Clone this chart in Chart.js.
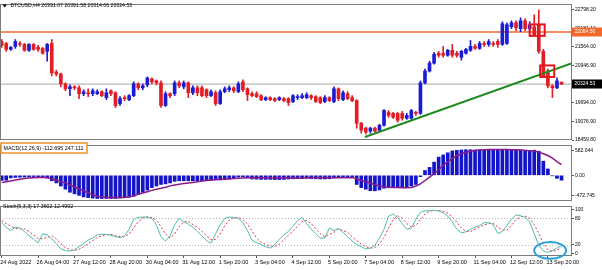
<!DOCTYPE html>
<html>
<head>
<meta charset="utf-8">
<script src="https://cdn.jsdelivr.net/npm/chart.js@4.4.1/dist/chart.umd.min.js"></script>
<style>
  html, body { margin: 0; padding: 0; background: #fff; }
  #wrap { position: relative; width: 602px; height: 270px; overflow: hidden; background: #fff; }
  canvas { position: absolute; left: 0; }
</style>
</head>
<body>
<div id="wrap">
  <canvas id="priceChart" width="602" height="145" style="top:0px"></canvas>
  <canvas id="macdChart" width="602" height="64" style="top:141px"></canvas>
  <canvas id="stochChart" width="602" height="68" style="top:202px"></canvas>
</div>
<script>
// BTCUSD H4 candles
const opens = [21746,21680,21483,21582,21680,21648,21450,21648,21549,21516,
  21418,21680,20727,20661,20333,20168,20234,20201,20004,20037,
  20004,20004,20070,19873,20103,20037,19675,19873,19807,19938,
  20333,20201,20300,20497,20431,20366,19610,20004,20004,20366,
  20234,20366,20037,20201,20201,20136,19938,20037,19675,20070,
  20136,20201,20070,20399,20168,20004,20004,19938,19807,19873,
  19840,19807,19840,19840,19741,19873,19873,19873,19938,19905,
  19873,19741,19873,19741,20168,19807,20004,19873,19774,19018,
  18854,18755,18854,18788,18952,19380,19347,19347,19347,19183,
  19183,19380,19347,20366,20760,21023,21352,21352,21286,21450,
  21352,21220,21352,21450,21582,21516,21680,21648,21680,21746,
  21648,21680,22239,22371,22174,22436,22174,22239,22305,21418,
  20760,20267,20201,20391.07];
const highs = [21812,21713,21582,21812,21746,21680,21680,21680,21615,21549,
  21680,21812,20793,20694,20366,20300,20267,20267,20136,20168,
  20168,20136,20103,20168,20136,20070,19905,19938,19971,20399,
  20366,20333,20563,20530,20464,20431,20070,20037,20431,20431,
  20431,20399,20267,20267,20267,20168,20136,20103,20136,20234,
  20267,20234,20399,20464,20201,20070,20070,19971,19905,19905,
  19873,19905,19873,19873,19971,19971,20004,20037,19971,19938,
  19905,19938,19905,20234,20201,20103,20070,19938,19807,19051,
  18887,18887,18887,18985,19478,19445,19380,19380,19413,19347,
  19478,19413,20431,20826,21089,21385,21418,21582,21483,21648,
  21418,21450,21516,21779,21648,21746,21746,21812,21746,21812,
  22404,22371,22436,22436,22535,22502,22404,22634,22798.2,21483,
  20826,20300,20530,20391.58];
const lows = [21549,21418,21450,21516,21582,21418,21418,21450,21418,21319,
  21089,20596,20596,20234,20103,19938,20136,19840,19938,19905,
  19938,19971,19905,19807,19938,19544,19610,19774,19774,19905,
  20136,20136,20234,20333,20300,19544,19577,19873,19938,20201,
  20168,19873,19971,19938,19905,19873,19905,19610,19643,20037,
  20070,20037,20037,20070,19774,19905,19873,19774,19774,19774,
  19741,19774,19741,19610,19708,19807,19840,19840,19807,19708,
  19675,19708,19741,19708,19774,19774,19807,19741,18854,18689,
  18657,18689,18722,18755,18919,19215,19183,19051,19117,19150,
  19150,19281,19314,20333,20727,20990,21220,21220,21253,21220,
  21220,21122,21319,21418,21483,21483,21582,21582,21582,21549,
  21615,21648,22174,22108,22075,22108,22108,21943,21352,20563,
  20201,19873,20168,20314.66];
const closes = [21615,21483,21549,21746,21648,21450,21648,21483,21483,21352,
  21648,20694,20661,20333,20168,20234,20201,20004,20070,20004,
  20103,20070,19938,20037,20004,19610,19840,19840,19938,20333,
  20201,20267,20530,20399,20366,19610,20004,19938,20366,20267,
  20366,20037,20201,20037,19938,19938,20070,19675,20070,20168,
  20201,20103,20333,20136,19971,19938,19905,19807,19873,19807,
  19774,19873,19774,19708,19938,19905,19938,19971,19873,19741,
  19708,19873,19774,20168,19840,20037,19840,19774,19018,18788,
  18722,18854,18755,18952,19445,19281,19215,19117,19183,19281,
  19445,19347,20366,20760,21023,21319,21286,21286,21450,21286,
  21286,21418,21483,21582,21516,21680,21648,21746,21648,21648,
  22338,22305,22371,22206,22436,22174,22305,21976,21418,20596,
  20267,20201,20431,20324.53];

// MACD(12,26,9): histogram (main) and signal
const macdHist = [-120,-115,-60,-50,-45,-40,-35,-30,-30,-40,
  -60,-127,-177,-249,-322,-394,-430,-466,-503,-517,
  -530,-539,-539,-539,-539,-539,-530,-517,-510,-488,
  -445,-394,-344,-286,-249,-213,-199,-177,-141,-127,
  -127,-127,-127,-127,-125,-120,-115,-110,-110,-100,
  -90,-60,-40,-35,-60,-85,-90,-95,-95,-95,
  -100,-100,-95,-85,-80,-75,-75,-70,-75,-80,
  -85,-85,-80,-60,-55,-50,-40,-40,-213,-286,
  -322,-358,-360,-340,-300,-290,-286,-286,-280,-270,
  -249,-213,-30,112,184,307,423,474,524,568,
  582,590,595,595,590,590,585,582,580,582,
  590,595,598,595,590,585,580,585,560,329,
  148,-10,-70,-112.695];
const macdSignal = [-170,-150,-130,-110,-90,-75,-62,-54,-50,-47,
  -55,-80,-110,-145,-177,-225,-270,-315,-358,-405,
  -450,-488,-505,-515,-518,-518,-518,-517,-500,-475,
  -440,-410,-380,-350,-322,-300,-275,-245,-225,-205,
  -190,-178,-165,-150,-135,-120,-108,-98,-90,-85,
  -82,-75,-68,-62,-58,-55,-54,-56,-58,-60,
  -62,-64,-64,-64,-62,-60,-60,-58,-58,-58,
  -58,-56,-56,-55,-55,-54,-54,-54,-80,-120,
  -150,-177,-215,-249,-265,-275,-282,-286,-288,-288,
  -285,-250,-200,-120,-40,40,130,230,320,390,
  460,500,535,560,578,590,597,600,600,600,
  600,598,597,595,588,580,570,565,540,500,
  460,400,320,247.111];

// Stochastic(5,3,3)
const stochMain = [70,60,52,60,58,50,40,32,24,45,
  42,33,22,10,6,5,8,15,22,30,
  35,42,44,43,41,38,36,40,55,78,
  82,83,83,80,65,38,28,40,65,80,
  72,67,60,50,40,29,23,45,65,80,
  83,82,80,70,52,30,24,20,15,12,
  20,32,42,50,62,75,82,68,55,45,
  35,35,58,52,57,48,38,28,20,15,
  10,12,18,35,55,85,90,82,68,55,
  58,78,94,97,98,98,97,93,85,72,
  55,47,49,55,60,64,70,70,66,45,
  50,64,78,88,86,82,72,45,18,5,
  2,6,12,17.3602];
const stochSignal = [75,68,62,57,56,56,50,42,34,33,
  36,40,33,22,13,8,6,9,15,22,
  29,36,40,43,43,41,38,38,44,58,
  72,81,83,82,76,61,44,35,44,62,
  72,73,66,59,50,40,31,32,44,63,
  76,82,82,77,67,51,35,25,20,16,
  16,21,31,41,51,62,73,75,68,56,
  45,38,43,48,56,52,48,38,29,21,
  15,12,13,22,36,58,77,86,80,68,
  60,64,77,90,96,98,98,96,92,83,
  71,58,50,50,55,60,65,68,69,60,
  54,53,64,77,84,85,80,66,45,23,
  8,4,7,12.4992];

const timeLabels = ['24 Aug 2022','26 Aug 04:00','27 Aug 12:00','28 Aug 20:00','30 Aug 04:00',
  '31 Aug 12:00','1 Sep 20:00','3 Sep 04:00','4 Sep 12:00','5 Sep 20:00','7 Sep 04:00',
  '8 Sep 12:00','9 Sep 20:00','11 Sep 04:00','12 Sep 12:00','13 Sep 20:00'];
const timeTickBars = [0,8,16,24,32,40,48,56,64,72,80,88,96,104,112,120];

const priceTicks = [22798.20,22181.10,21564.00,20946.90,20329.80,19694.00,19076.90,18459.80];
const macdTicks = [582.044, 0, -472.745];
const macdTickLabels = ['582.044','0.00','-472.745'];
const stochTicks = [100, 80, 20, 0];
const stochLevels = [80, 20];

const resistanceLevel = 22064.50;
const lastPrice = 20324.53;
const trendLine = [{x: 79.8, y: 18558}, {x: 125.3, y: 21023}];
// marked zones: [barFrom, barTo, priceTop, priceBottom]
const markedBoxes = [[116.0, 119.3, 22315, 21934], [118.3, 121.4, 20947, 20563]];
// circled stochastic zone: [barFrom, barTo, valueTop, valueBottom]
const stochCircle = [117.0, 124.0, 25.6, -12.6];

const bullColor = '#1c1cd4';
const bearColor = '#e11d25';
const barMin = -0.37, barMax = 125.3;
const FONT = '"Liberation Sans", Arial, sans-serif';

Chart.defaults.font.family = FONT;
Chart.defaults.font.size = 5;
Chart.defaults.color = '#000';
Chart.defaults.animation = false;

const bars = opens.map((_, i) => i);
const candleColors = bars.map(i => closes[i] >= opens[i] ? bullColor : bearColor);

function timeAxis(show) {
  return {
    type: 'linear', min: barMin, max: barMax, offset: false, display: show,
    afterBuildTicks(s) { s.ticks = timeTickBars.map(v => ({ value: v })); },
    afterFit(s) { s.height = show ? 14 : 0; },
    grid: { drawOnChartArea: false, drawTicks: true, tickLength: 2, color: '#555' },
    border: { display: false },
    ticks: { autoSkip: false, maxRotation: 0, align: 'start', labelOffset: -1.5, padding: 1,
      font: { size: 5.5 }, callback: (v, i) => timeLabels[i] }
  };
}

function rightAxis(min, max, ticks, labels) {
  return {
    position: 'right', min, max,
    afterFit(s) { s.width = 30; },
    afterBuildTicks(s) { s.ticks = ticks.map(v => ({ value: v })); },
    grid: { drawOnChartArea: false, drawTicks: true, tickLength: 2, color: '#555' },
    border: { display: false },
    ticks: { autoSkip: false, padding: 1, font: { size: 5 }, callback: (v, i) => labels[i] }
  };
}

const paneFrame = {
  id: 'paneFrame',
  afterDraw(chart) {
    const { ctx, chartArea: a } = chart;
    ctx.save();
    ctx.strokeStyle = '#7c7c7c';
    ctx.lineWidth = 1;
    ctx.strokeRect(a.left + 0.5, a.top + 0.5, a.right - a.left - 1, a.bottom - a.top - 1);
    ctx.restore();
  }
};

function axisTag(chart, value, text, bg, fg) {
  const { ctx, chartArea: a } = chart;
  const y = chart.scales.y.getPixelForValue(value);
  ctx.fillStyle = bg;
  ctx.fillRect(a.right, Math.round(y) - 4.5, 30, 9);
  ctx.fillStyle = fg;
  ctx.font = '5px ' + FONT;
  ctx.textBaseline = 'middle';
  ctx.textAlign = 'left';
  ctx.fillText(text, a.right + 2.5, Math.round(y));
}

const priceExtras = {
  id: 'priceExtras',
  afterDraw(chart) {
    const { ctx, scales: { x, y } } = chart;
    ctx.save();
    ctx.strokeStyle = '#e8141c';
    ctx.lineWidth = 2;
    markedBoxes.forEach(b => {
      const x0 = x.getPixelForValue(b[0]), x1 = x.getPixelForValue(b[1]);
      const y0 = y.getPixelForValue(b[2]), y1 = y.getPixelForValue(b[3]);
      ctx.strokeRect(x0, y0, x1 - x0, y1 - y0);
    });
    axisTag(chart, resistanceLevel, resistanceLevel.toFixed(2), '#f2692e', '#fff');
    axisTag(chart, lastPrice, lastPrice.toFixed(2), '#000', '#fff');
    // symbol header
    ctx.fillStyle = '#000';
    ctx.beginPath();
    ctx.moveTo(2.5, 4.5); ctx.lineTo(7, 4.5); ctx.lineTo(4.75, 7.5); ctx.closePath();
    ctx.fill();
    ctx.font = '5.2px ' + FONT;
    ctx.textBaseline = 'middle';
    ctx.fillText('BTCUSD,H4 ' + [opens[123], highs[123], lows[123], closes[123]].map(v => v.toFixed(2)).join(' '), 10.5, 6);
    ctx.restore();
  }
};

new Chart(document.getElementById('priceChart'), {
  type: 'bar',
  data: {
    datasets: [
      { type: 'line', data: trendLine, borderColor: '#1f8a1f', borderWidth: 2, pointRadius: 0, order: 0 },
      { data: bars.map(i => ({ x: i, y: [opens[i], closes[i]] })), backgroundColor: candleColors,
        barThickness: 3, minBarLength: 1, grouped: false, order: 1 },
      { data: bars.map(i => ({ x: i, y: [lows[i], highs[i]] })), backgroundColor: candleColors,
        barThickness: 1, grouped: false, order: 2 },
      { type: 'line', data: [{ x: barMin, y: resistanceLevel }, { x: barMax, y: resistanceLevel }],
        borderColor: '#f2692e', borderWidth: 1.5, pointRadius: 0, order: 5 },
      { type: 'line', data: [{ x: barMin, y: lastPrice }, { x: barMax, y: lastPrice }],
        borderColor: '#a6a6a6', borderWidth: 1, pointRadius: 0, order: 6 }
    ]
  },
  options: {
    responsive: false,
    layout: { padding: { top: 2, bottom: 5, left: 0, right: 0 } },
    plugins: { legend: { display: false }, tooltip: { enabled: false } },
    scales: {
      x: timeAxis(false),
      y: rightAxis(18459.8, 22996, priceTicks, priceTicks.map(v => v.toFixed(2)))
    }
  },
  plugins: [paneFrame, priceExtras]
});

const macdExtras = {
  id: 'macdExtras',
  afterDraw(chart) {
    const { ctx } = chart;
    ctx.save();
    ctx.fillStyle = '#fff';
    ctx.fillRect(1, 2, 86, 10);
    ctx.strokeStyle = '#f0902c';
    ctx.lineWidth = 1.5;
    ctx.strokeRect(1, 2, 86, 10);
    ctx.fillStyle = '#000';
    ctx.font = '5.4px ' + FONT;
    ctx.textBaseline = 'middle';
    ctx.fillText('MACD(12,26,9) ' + macdHist[123].toFixed(3) + ' ' + macdSignal[123].toFixed(3), 3.5, 7.5);
    ctx.restore();
  }
};

new Chart(document.getElementById('macdChart'), {
  type: 'bar',
  data: {
    datasets: [
      { type: 'line', data: bars.map(i => ({ x: i, y: macdSignal[i] })), borderColor: '#8a1a8a',
        borderWidth: 1.5, pointRadius: 0, order: 0 },
      { data: bars.map(i => ({ x: i, y: macdHist[i] })), backgroundColor: '#1414c8',
        barThickness: 3, grouped: false, order: 1 }
    ]
  },
  options: {
    responsive: false,
    layout: { padding: { top: 0, bottom: 4, left: 0, right: 0 } },
    plugins: { legend: { display: false }, tooltip: { enabled: false } },
    scales: {
      x: timeAxis(false),
      y: rightAxis(-597, 705, macdTicks, macdTickLabels)
    }
  },
  plugins: [paneFrame, macdExtras]
});

const stochExtras = {
  id: 'stochExtras',
  beforeDatasetsDraw(chart) {
    const { ctx, chartArea: a, scales: { y } } = chart;
    ctx.save();
    ctx.strokeStyle = '#b4b4b4';
    ctx.lineWidth = 1;
    ctx.setLineDash([1, 2]);
    stochLevels.forEach(v => {
      const py = Math.round(y.getPixelForValue(v)) + 0.5;
      ctx.beginPath(); ctx.moveTo(a.left, py); ctx.lineTo(a.right, py); ctx.stroke();
    });
    ctx.restore();
  },
  afterDraw(chart) {
    const { ctx, scales: { x, y } } = chart;
    ctx.save();
    const x0 = x.getPixelForValue(stochCircle[0]), x1 = x.getPixelForValue(stochCircle[1]);
    const y0 = y.getPixelForValue(stochCircle[2]), y1 = y.getPixelForValue(stochCircle[3]);
    ctx.strokeStyle = '#2b9fd8';
    ctx.lineWidth = 2;
    ctx.beginPath();
    ctx.ellipse((x0 + x1) / 2, (y0 + y1) / 2, (x1 - x0) / 2, (y1 - y0) / 2, 0, 0, Math.PI * 2);
    ctx.stroke();
    ctx.fillStyle = '#000';
    ctx.font = '5.3px ' + FONT;
    ctx.textBaseline = 'middle';
    ctx.fillText('Stoch(5,3,3) ' + stochMain[123].toFixed(4) + ' ' + stochSignal[123].toFixed(4), 3, 5);
    ctx.restore();
  }
};

new Chart(document.getElementById('stochChart'), {
  type: 'line',
  data: {
    datasets: [
      { data: bars.map(i => ({ x: i, y: stochMain[i] })), borderColor: '#4fb9b3', borderWidth: 1,
        pointRadius: 0 },
      { data: bars.map(i => ({ x: i, y: stochSignal[i] })), borderColor: '#e8343a', borderWidth: 1,
        borderDash: [2, 2], pointRadius: 0 }
    ]
  },
  options: {
    responsive: false,
    layout: { padding: { top: 0, bottom: 0, left: 0, right: 0 } },
    plugins: { legend: { display: false }, tooltip: { enabled: false } },
    scales: {
      x: timeAxis(true),
      y: rightAxis(-6.25, 108.3, stochTicks, stochTicks.map(String))
    }
  },
  plugins: [paneFrame, stochExtras]
});
</script>
</body>
</html>
